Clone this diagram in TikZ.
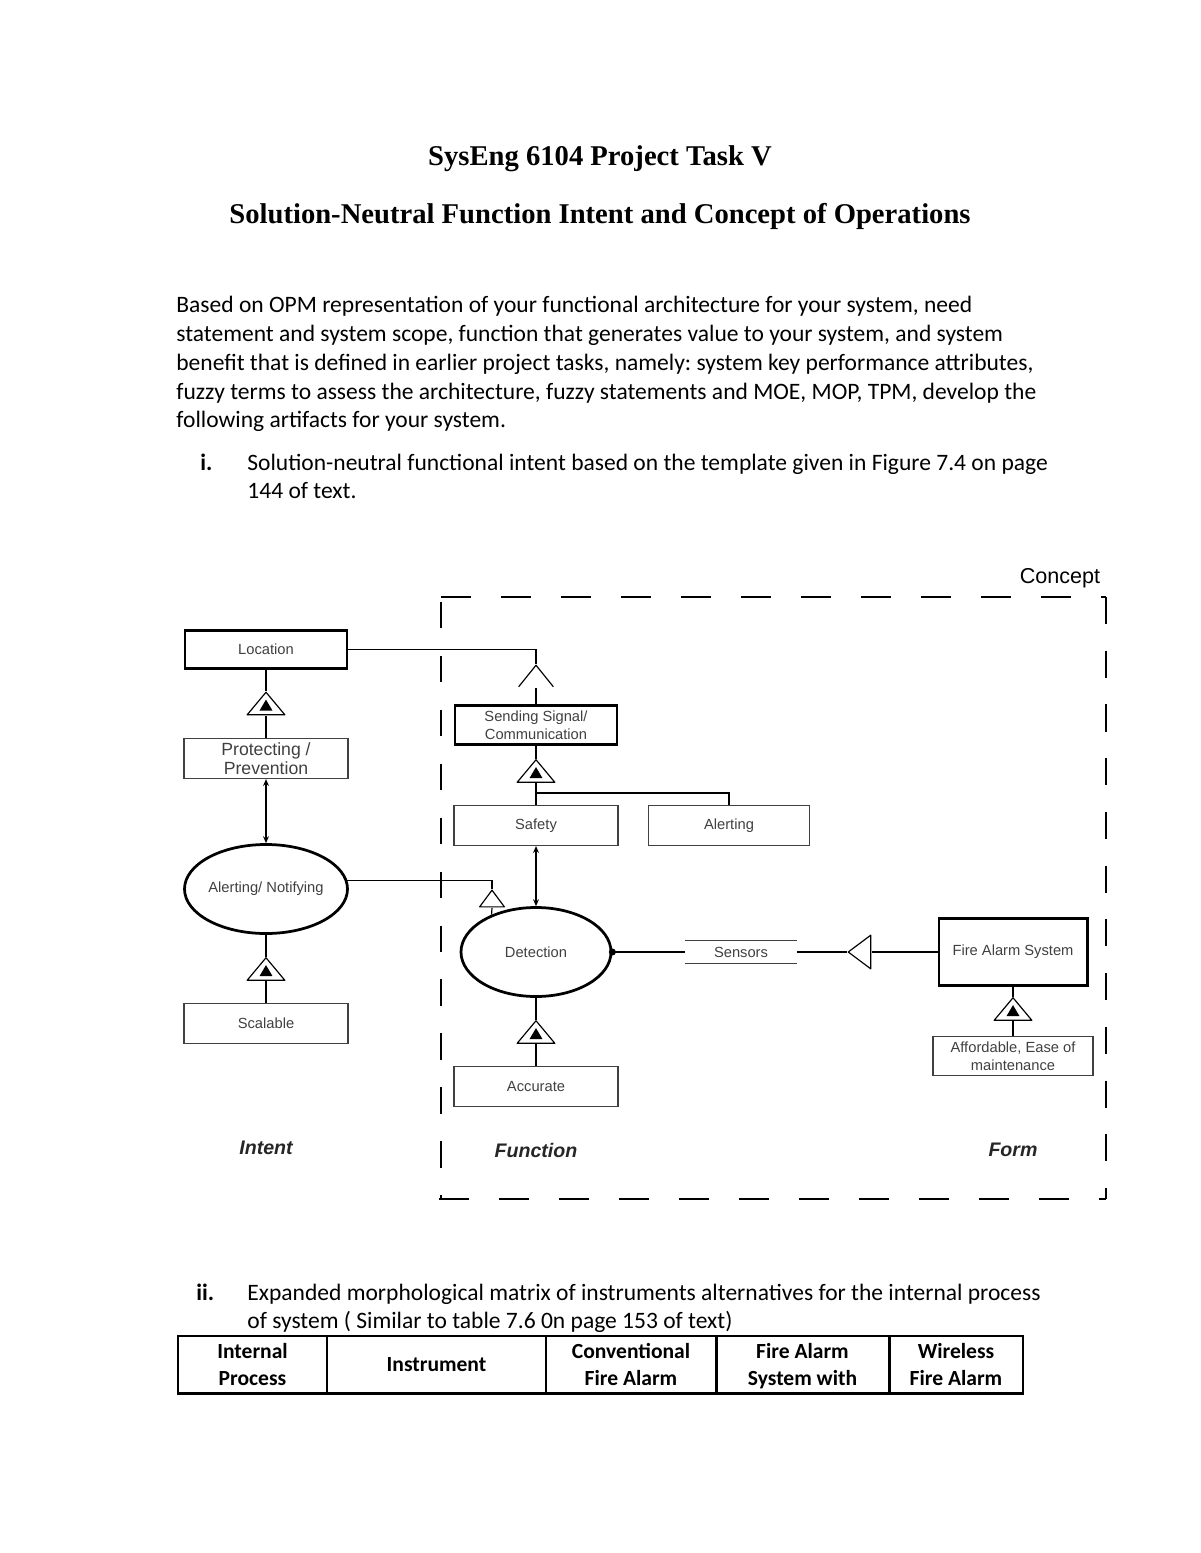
\documentclass[tikz,border=0pt]{standalone}
\usepackage{fontspec}
\setmainfont{Carlito}
\newfontfamily\headfont{Liberation Serif}
\newfontfamily\opmfont{Liberation Sans}
\usetikzlibrary{arrows.meta,shapes.geometric}
\frenchspacing
\newcommand{\cellstrut}{\rule[-2pt]{0pt}{11.4pt}}

\begin{document}
\begin{tikzpicture}[
    x=0.51pt, y=-0.51pt,
    every node/.style={inner sep=0pt},
    head/.style={anchor=base, font=\headfont\bfseries\fontsize{14.6}{17}\selectfont},
    body/.style={anchor=base west, font=\fontsize{12}{14.5}\selectfont},
    lbl/.style={font=\opmfont\fontsize{7.5}{9}\selectfont, text=black!75, align=center},
    obj/.style={
        lbl,
        draw=black,
        line width=1.5pt,
        minimum width=82.6pt,
        minimum height=19.6pt
    },
    attr/.style={
        lbl,
        draw=black!75,
        line width=0.6pt,
        minimum width=83.6pt,
        minimum height=20.4pt
    },
    proc/.style={
        lbl,
        ellipse,
        draw=black,
        line width=1.4pt,
        minimum width=76.5pt,
        minimum height=45.4pt
    },
    exhibit/.style={
        minimum width=19.9pt,
        minimum height=12.2pt,
        path picture={
            \draw[line width=0.6pt, line join=round]
                ([yshift=-0.35pt]path picture bounding box.north)
                -- ([shift={(-0.35pt,0.35pt)}]path picture bounding box.south east)
                -- ([shift={(0.35pt,0.35pt)}]path picture bounding box.south west) -- cycle;
            \fill ([yshift=-4.1pt]path picture bounding box.north)
                -- ([shift={(3.3pt,2.5pt)}]path picture bounding box.south)
                -- ([shift={(-3.3pt,2.5pt)}]path picture bounding box.south) -- cycle;
        }
    },
    opentri/.style={
        minimum width=13.3pt,
        minimum height=9.2pt,
        path picture={
            \draw[line width=0.6pt, line join=round]
                ([yshift=-0.35pt]path picture bounding box.north)
                -- ([shift={(-0.35pt,0.35pt)}]path picture bounding box.south east)
                -- ([shift={(0.35pt,0.35pt)}]path picture bounding box.south west) -- cycle;
        }
    },
    lefttri/.style={
        minimum width=12.2pt,
        minimum height=17.9pt,
        path picture={
            \draw[line width=0.6pt, line join=round]
                ([xshift=0.35pt]path picture bounding box.west)
                -- ([shift={(-0.35pt,-0.35pt)}]path picture bounding box.north east)
                -- ([shift={(-0.35pt,0.35pt)}]path picture bounding box.south east) -- cycle;
        }
    },
    forktri/.style={
        minimum width=18.4pt,
        minimum height=11.7pt,
        path picture={
            \draw[line width=0.6pt, line join=round]
                ([shift={(0.35pt,0.35pt)}]path picture bounding box.south west)
                -- ([yshift=-0.35pt]path picture bounding box.north)
                -- ([shift={(-0.35pt,0.35pt)}]path picture bounding box.south east);
        }
    },
    link/.style={line width=0.6pt},
    dlink/.style={link, {Stealth[length=3.5pt,width=3pt]}-{Stealth[length=3.5pt,width=3pt]}},
    frame/.style={line width=1.5pt},
    zone/.style={font=\opmfont\bfseries\itshape\fontsize{10}{12}\selectfont, text=black!85},
    cell/.style={
        draw,
        line width=1.5pt,
        minimum height=29.1pt,
        align=center,
        font=\bfseries\fontsize{11}{13.6}\selectfont
    }
]
    \useasboundingbox (0,0) rectangle (1200,1553);

    % Heading
    \node[head] (title) at (600,166) {SysEng 6104 Project Task V};
    \node[head] (subtitle) at (600,224) {Solution-Neutral Function Intent and Concept of Operations};

    % Task text
    \node[body] (para1) at (176,312) {Based on OPM representation of your functional architecture for your system, need};
    \node[body] (para2) at (176,341) {statement and system scope, function that generates value to your system, and system};
    \node[body] (para3) at (176,370) {benefit that is defined in earlier project tasks, namely: system key performance attributes,};
    \node[body] (para4) at (176,399) {fuzzy terms to assess the architecture, fuzzy statements and MOE, MOP, TPM, develop the};
    \node[body] (para5) at (176,427) {following artifacts for your system.};

    \node[body, font=\bfseries\fontsize{12}{14.5}\selectfont] (numi) at (200,470) {i.};
    \node[body] (itemi1) at (247,470) {Solution-neutral functional intent based on the template given in Figure 7.4 on page};
    \node[body] (itemi2) at (247,498) {144 of text.};

    % Concept frame
    \draw[frame, dash pattern=on 15.3pt off 15.3pt] (441,597) -- (1106,597);
    \draw[frame, dash pattern=on 13.8pt off 13.6pt] (1106,597) -- (1106,1199);
    \draw[frame, dash pattern=on 15.3pt off 15.3pt] (439,1199) -- (1106,1199);
    \draw[frame, dash pattern=on 13.5pt off 14pt] (441,602) -- (441,1199);
    \node[font=\opmfont\fontsize{11}{13}\selectfont] (concept) at (1060,578) {Concept};

    % Intent
    \node[obj] (loc) at (266,649.5) {Location};
    \node[exhibit] (tloc) at (266,703.5) {};
    \node[attr, font=\opmfont\fontsize{9}{10}\selectfont] (prot) at (266,758.5) {Protecting /\\Prevention};
    \node[proc, minimum width=76pt] (alert) at (266,889) {Alerting/ Notifying};
    \node[exhibit] (talert) at (266,969) {};
    \node[attr] (scal) at (266,1023.5) {Scalable};

    % Function
    \node[forktri] (fork) at (536,676) {};
    \node[obj] (send) at (536,725) {Sending Signal/\\Communication};
    \node[exhibit] (tsend) at (536,771) {};
    \node[attr] (safety) at (536,825.5) {Safety};
    \node[attr, minimum width=82.1pt] (alerting) at (729,825.5) {Alerting};
    \node[opentri] (tinv) at (492,898.5) {};
    \node[proc] (det) at (536,952) {Detection};
    \node[exhibit] (tdet) at (536,1032) {};
    \node[attr] (acc) at (536,1086.5) {Accurate};

    % Form
    \node[lbl, minimum width=57.1pt, minimum height=11.2pt] (sens) at (741,952) {Sensors};
    \node[lefttri] (tgen) at (859.5,952) {};
    \node[obj, minimum width=75.5pt, minimum height=34.2pt] (fas) at (1013,952) {Fire Alarm System};
    \node[exhibit] (tfas) at (1013,1009) {};
    \node[attr, minimum width=81.6pt, minimum height=19.9pt] (aff) at (1013,1056) {Affordable, Ease of\\maintenance};

    \node[zone] (intent) at (266,1148) {Intent};
    \node[zone] (function) at (536,1150) {Function};
    \node[zone] (form) at (1013,1150) {Form};

    % Links
    \draw[link] (loc.south) -- (tloc.north);
    \draw[link] (tloc.south) -- (prot.north);
    \draw[dlink] (prot.south) -- (alert.north);
    \draw[link] (alert.south) -- (talert.north);
    \draw[link] (talert.south) -- (scal.north);

    \draw[link] (loc.east) -| (fork.north);
    \draw[link] (fork.south) -- (send.north);
    \draw[link] (send.south) -- (tsend.north);
    \draw[link] (tsend.south) -- (safety.north);
    \draw[link] (safety.north) ++(0,-12) coordinate (split) -| (alerting.north);

    \draw[link] (alert.6) -| (tinv.north);
    \draw[link] (tinv.south) -- (det.140);
    \draw[dlink] (safety.south) -- (det.north);
    \draw[link] (det.south) -- (tdet.north);
    \draw[link] (tdet.south) -- (acc.north);

    \fill (det.east) circle[radius=1.8pt];
    \draw[link] (det.east) -- (sens.west);
    \draw[link, draw=black!75] (sens.north west) -- (sens.north east)
        (sens.south west) -- (sens.south east);
    \draw[link] (sens.east) -- (tgen.west);
    \draw[link] (tgen.east) -- (fas.west);
    \draw[link] (fas.south) -- (tfas.north);
    \draw[link] (tfas.south) -- (aff.north);

    % Second task
    \node[body, font=\bfseries\fontsize{12}{14.5}\selectfont] (numii) at (196,1300) {ii.};
    \node[body] (itemii1) at (247,1300) {Expanded morphological matrix of instruments alternatives for the internal process};
    \node[body] (itemii2) at (247,1328) {of system ( Similar to table 7.6 0n page 153 of text)};

    % Matrix header
    \node[cell, minimum width=76pt] (c1) at (252.5,1364.5) {Internal\cellstrut\\Process\cellstrut};
    \node[cell, minimum width=111.7pt] (c2) at (436.5,1364.5) {Instrument\cellstrut};
    \node[cell, minimum width=86.7pt] (c3) at (631,1364.5) {Conventional\cellstrut\\Fire Alarm\cellstrut};
    \node[cell, minimum width=88.2pt] (c4) at (802.5,1364.5) {Fire Alarm\cellstrut\\System with\cellstrut};
    \node[cell, minimum width=68.3pt] (c5) at (956,1364.5) {Wireless\cellstrut\\Fire Alarm\cellstrut};

\end{tikzpicture}
\end{document}
